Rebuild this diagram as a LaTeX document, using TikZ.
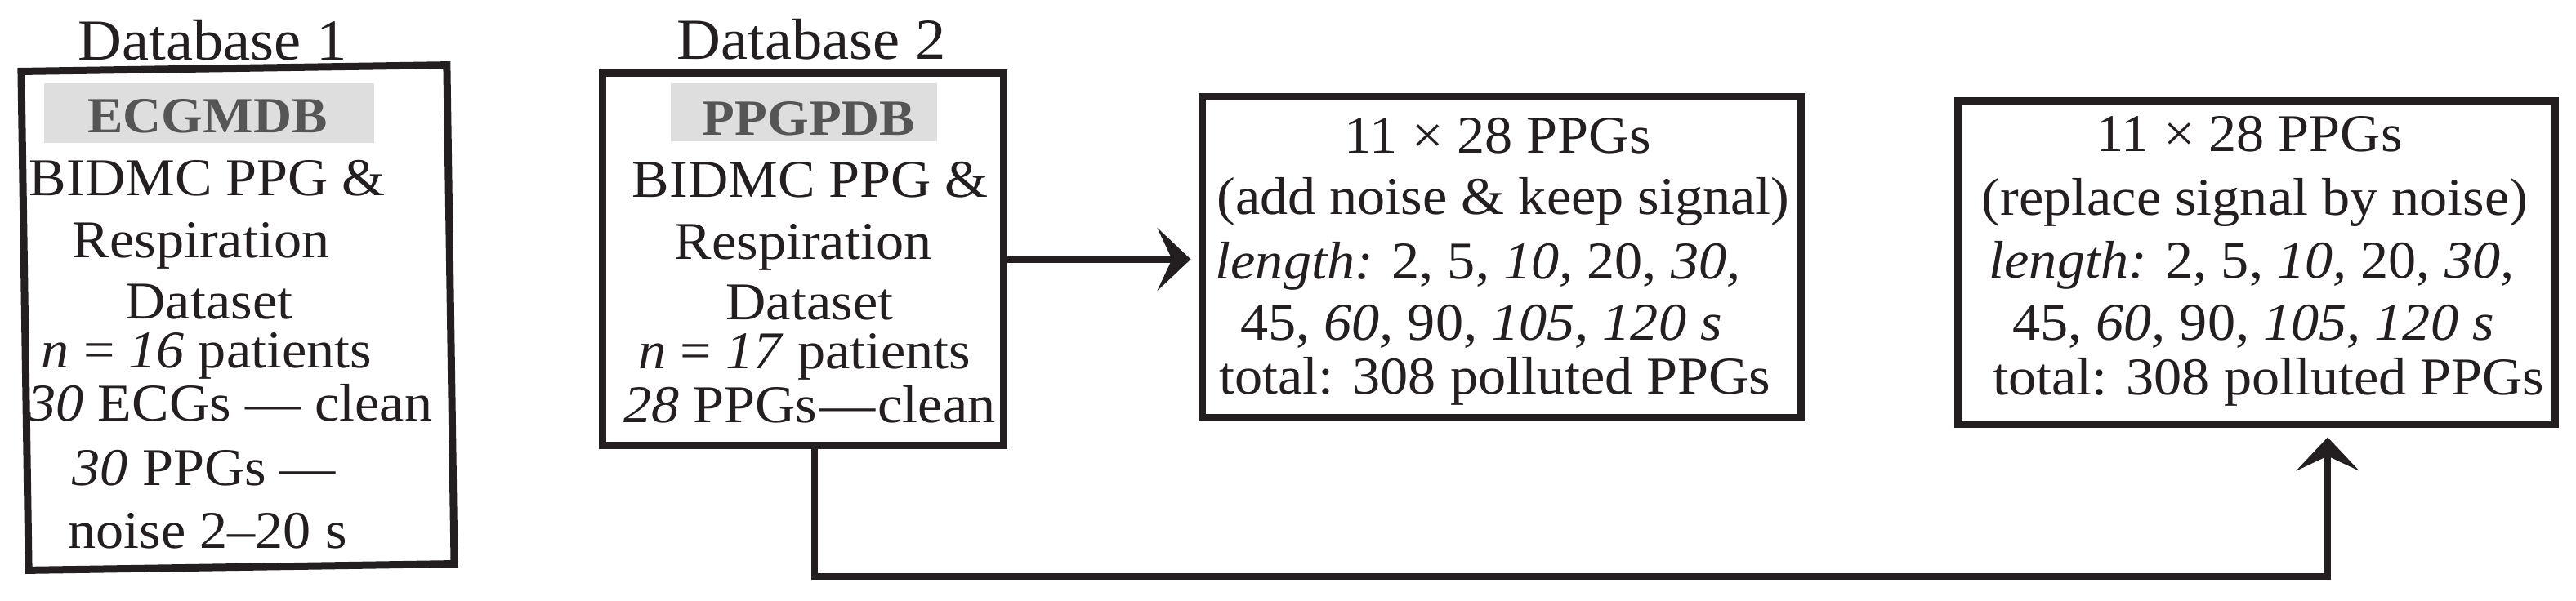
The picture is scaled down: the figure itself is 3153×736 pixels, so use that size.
\documentclass[tikz,border=0pt]{standalone}
\usepackage{fontspec}
\setmainfont{Liberation Serif}[FakeStretch=1.05]
\usetikzlibrary{arrows.meta}
\definecolor{ink}{HTML}{231F20}
\definecolor{graybg}{HTML}{DEDEDE}
\definecolor{graytxt}{HTML}{555555}
\begin{document}
\begin{tikzpicture}[x=1pt,y=-1pt,
  boxline/.style={draw=ink, line width=9pt, inner sep=0pt, outer sep=0pt},
  txt/.style={anchor=base, inner sep=0pt, outer sep=0pt, text=ink, font=\fontsize{65}{70}\selectfont},
  lbl/.style={anchor=base, inner sep=0pt, outer sep=0pt, text=ink, font=\fontsize{71}{75}\selectfont},
  tag/.style={anchor=base, inner sep=0pt, outer sep=0pt, text=graytxt, font=\fontsize{62}{66}\selectfont\bfseries},
  tagbg/.style={fill=graybg, inner sep=0pt, outer sep=0pt},
  conn/.style={draw=ink, line width=8pt},
  arr/.style={conn, -{Stealth[length=41pt,width=77pt,inset=18pt]}}
]
\useasboundingbox (0,0) rectangle (3153,736);

% boxes
\node[boxline, minimum width=521pt, minimum height=611pt, rotate=0.86] (b1) at (291,389) {};
\node[boxline, minimum width=491pt, minimum height=456pt] (b2) at (983,317.5) {};
\node[boxline, minimum width=733pt, minimum height=393pt] (b3) at (1838,315) {};
\node[boxline, minimum width=731pt, minimum height=396pt] (b4) at (2762,321.5) {};

% gray tags
\node[tagbg, minimum width=404pt, minimum height=73pt] (g1) at (256,138.5) {};
\node[tagbg, minimum width=326pt, minimum height=71pt] (g2) at (984,137.5) {};
\node[tag] (t1) at (254,162) {ECGMDB};
\node[tag] (t2) at (990,165) {PPGPDB};

% labels
\node[lbl] (db1) at (260,73) {Database 1};
\node[lbl] (db2) at (993,72) {Database 2};

% box 1 text
\node[txt] (b1l1) at (254,239) {BIDMC PPG \&};
\node[txt] (b1l2) at (246,315) {Respiration};
\node[txt] (b1l3) at (256,390) {Dataset};
\node[txt] (b1l4) at (253,450) {\textit{n} = \textit{16} patients};
\node[txt] (b1l5) at (282,515) {\textit{30} ECGs — clean};
\node[txt] (b1l6) at (250,594) {\textit{30} PPGs —};
\node[txt] (b1l7) at (254,671) {noise 2–20 s};

% box 2 text
\node[txt] (b2l1) at (992,241) {BIDMC PPG \&};
\node[txt] (b2l2) at (983,317) {Respiration};
\node[txt] (b2l3) at (991,391) {Dataset};
\node[txt] (b2l4) at (985,451) {\textit{n} = \textit{17} patients};
\node[txt] (b2l5) at (991,517) {\textit{28} PPGs\kern3pt—\kern3pt clean};

% box 3 text
\node[txt] (b3l1) at (1833,187) {11 × 28 PPGs};
\node[txt] (b3l2) at (1840,262) {(add noise \& keep signal)};
\node[txt] (b3l3) at (1809,341) {\textit{length:} 2, 5, \textit{10,} 20, \textit{30,}};
\node[txt] (b3l4) at (1813,416) {45, \textit{60,} 90, \textit{105,} \textit{120 s}};
\node[txt] (b3l5) at (1830,482) {total: 308 polluted PPGs};

% box 4 text
\node[txt] (b4l1) at (2753,185) {11 × 28 PPGs};
\node[txt] (b4l2) at (2760,263) {(replace signal by noise)};
\node[txt] (b4l3) at (2756,340) {\textit{length:} 2, 5, \textit{10,} 20, \textit{30,}};
\node[txt] (b4l4) at (2758,416) {45, \textit{60,} 90, \textit{105,} \textit{120 s}};
\node[txt] (b4l5) at (2777,483) {total: 308 polluted PPGs};

% connectors
\draw[arr, shorten >=14pt] (b2.east) -- (b2.east -| b3.west);
\coordinate (c1) at (997,706);
\coordinate (c2) at (2849,706);
\draw[arr, shorten >=16pt] (c1 |- b2.south) -- (c1) -- (c2) -- (c2 |- b4.south);
\end{tikzpicture}
\end{document}
